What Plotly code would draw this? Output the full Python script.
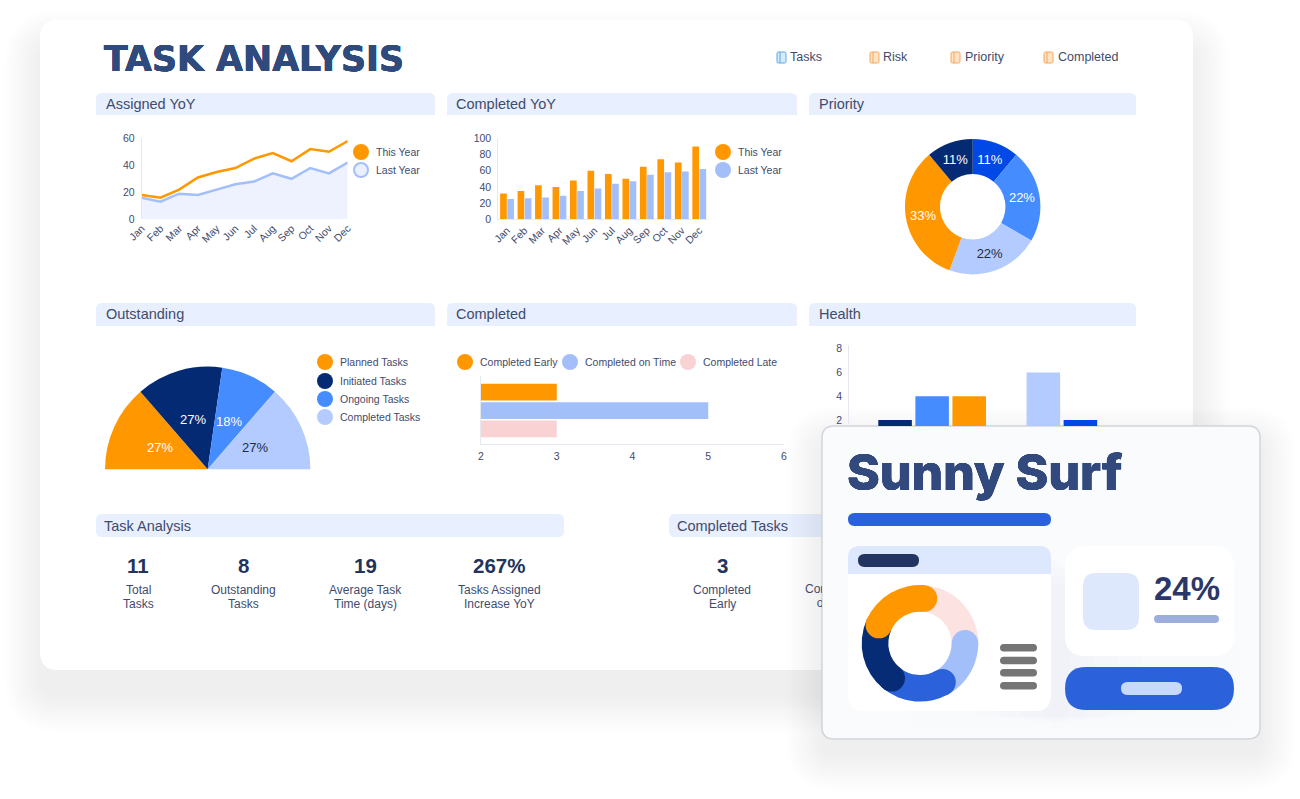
import math
import plotly.graph_objects as go

W, H = 1300, 799
months = ["Jan","Feb","Mar","Apr","May","Jun","Jul","Aug","Sep","Oct","Nov","Dec"]
assigned_this = [18,16,22,31,35,38,45,49,43,52,50,58]
assigned_last = [16,13,19,18,22,26,28,34,30,38,34,42]
completed_this = [32,35,42,40,48,60,56,50,65,74,70,90]
completed_last = [25,26,27,29,35,38,44,47,55,58,59,62]
priority_labels = ["Critical","High","Medium","Low","Minimal"]
priority_values = [1,2,2,3,1]
outstanding_labels = ["Planned Tasks","Initiated Tasks","Ongoing Tasks","Completed Tasks"]
outstanding_values = [3,3,2,3]
completed_labels = ["Completed Early","Completed on Time","Completed Late"]
completed_values = [3,5,3]
health_cats = ["a","b","c","d","e","f"]
health_values = [2,4,4,0,6,2]
ring_names = ["Late","On time","Early","Initiated","Planned"]
ring_sweeps = [85,60,69,75,71]
kpi_values = ["11","8","19","267%","3"]
kpi_labels = [("Total","Tasks"),("Outstanding","Tasks"),("Average Task","Time (days)"),("Tasks Assigned","Increase YoY"),("Completed","Early")]
top_items = ["Tasks","Risk","Priority","Completed"]

ORANGE="#ff9800"; NAVY="#042a73"; MID="#448cff"; LIGHT="#b3cbff"; ROYAL="#0049e6"; BAR="#a3bffa"; PINK="#f9d2d4"
TXT="#3f4b6c"; DARK="#24335c"; HDR="#e8effe"; AX="#e4e8ef"
SANS="Liberation Sans"

def fx(x): return x/W
def fy(y): return 1-y/H

shapes=[]; annos=[]

def rr(x0,y0,x1,y1,r,fill,line=None,lw=0,tl=True,tr=True,br=True,bl=True,layer="below"):
    a=r if tl else 0; b=r if tr else 0; c=r if br else 0; d=r if bl else 0
    p=f"M {fx(x0+a)} {fy(y0)} L {fx(x1-b)} {fy(y0)} Q {fx(x1)} {fy(y0)} {fx(x1)} {fy(y0+b)} "
    p+=f"L {fx(x1)} {fy(y1-c)} Q {fx(x1)} {fy(y1)} {fx(x1-c)} {fy(y1)} "
    p+=f"L {fx(x0+d)} {fy(y1)} Q {fx(x0)} {fy(y1)} {fx(x0)} {fy(y1-d)} "
    p+=f"L {fx(x0)} {fy(y0+a)} Q {fx(x0)} {fy(y0)} {fx(x0+a)} {fy(y0)} Z"
    shapes.append(dict(type="path",path=p,xref="paper",yref="paper",fillcolor=fill,
                       line=dict(color=line or "rgba(0,0,0,0)",width=lw),layer=layer))

def circ(cx,cy,r,fill,line=None,lw=0,layer="below"):
    shapes.append(dict(type="circle",xref="paper",yref="paper",x0=fx(cx-r),x1=fx(cx+r),y0=fy(cy+r),y1=fy(cy-r),
                       fillcolor=fill,line=dict(color=line or "rgba(0,0,0,0)",width=lw),layer=layer))

def shadow(x0,y0,x1,y1,r,spread,steps,alpha,dy):
    for i in range(steps,0,-1):
        s=spread*i/steps
        rr(x0-s,y0-s+dy,x1+s,y1+s+dy,r+s,f"rgba(0,0,0,{alpha})")

def txt(x,y,t,size=12,color=TXT,anchor="left",family=SANS,weight=None,stroke=None):
    f=dict(size=size,color=color,family=family)
    if weight: f["weight"]=weight
    if stroke:
        f["shadow"]=f"{stroke}px 0 0 {color}, -{stroke}px 0 0 {color}, 0 {stroke}px 0 {color}, 0 -{stroke}px 0 {color}"
    annos.append(dict(x=fx(x),y=fy(y),xref="paper",yref="paper",text=t,showarrow=False,xanchor=anchor,yanchor="middle",font=f,borderpad=0,borderwidth=0))

def dom(a,b,n): return [a/n,b/n]
def ydom(top,bot): return [1-bot/H,1-top/H]

# main card
shadow(40,20,1193,670,18,36,16,0.004,26)
rr(40,20,1193,670,18,"#ffffff")

# headers
for (x0,x1,y0,y1,tx,label) in [(96,435,93,115,106,"Assigned YoY"),(447,797,93,115,456,"Completed YoY"),(809,1136,93,115,819,"Priority"),
                            (96,435,303,326,106,"Outstanding"),(447,797,303,326,456,"Completed"),(809,1136,303,326,819,"Health"),
                            (96,564,514,537,104,"Task Analysis"),(669,1136,514,537,677,"Completed Tasks")]:
    rr(x0,y0,x1,y1,6,HDR,br=False,bl=False) if y0<500 else rr(x0,y0,x1,y1,6,HDR)
    txt(tx,(y0+y1)/2,label,14.5,TXT)

txt(104,59,"TASK ANALYSIS",34.8,"#2f4a7c",family="DejaVu Sans",weight=700,stroke=0.25)

# top legend icons
for (ix,tx,item,col,fill) in zip([777,870,951,1044],[790,883,965,1058],top_items,
        ["#5aa7e8","#f5a65b","#f5a65b","#f5a65b"],["#d8ebfb","#fde3c6","#fde3c6","#fde3c6"]):
    rr(ix,52,ix+9,63,1.5,fill,col,1)
    shapes.append(dict(type="line",xref="paper",yref="paper",x0=fx(ix+3),x1=fx(ix+3),y0=fy(52),y1=fy(63),line=dict(color=col,width=1),layer="below"))
    txt(tx,57,item,12.5,TXT)

# legends
for (y,l,fc,lc,lw) in [(152,"This Year",ORANGE,None,0),(170,"Last Year","#eaf0fe",BAR,2)]:
    circ(361,y,8 if lw==0 else 7,fc,lc,lw); txt(376,y,l,10.5)
for (y,l,fc) in [(152,"This Year",ORANGE),(170,"Last Year",BAR)]:
    circ(723,y,8,fc); txt(738,y,l,10.5)
for (y,l,fc) in zip([362,381,399,417],outstanding_labels,[ORANGE,NAVY,MID,LIGHT]):
    circ(325,y,8,fc); txt(339.5,y,l,10.5)
for (cx,l,fc) in zip([465,570,688],completed_labels,[ORANGE,BAR,PINK]):
    circ(cx,362,8,fc); txt(cx+14.5,362,l,10.5)

# KPIs
for (cx,v,l) in zip([138,243,366,499,722],kpi_values,kpi_labels):
    txt(cx,565.5,f"<b>{v}</b>",20.5,DARK,"center")
    txt(cx,590,l[0],12,TXT,"center"); txt(cx,604,l[1],12,TXT,"center")

# overlay card
shadow(822,426,1260,739,14,36,16,0.005,16)
rr(822,426,1260,739,12,"#fafbfd","#d2d5db",1.5)
for i,a in enumerate([6,14,22,30]):
    rr(1040-(30-a)*3,560+(30-a)*1,1070+(30-a)*3,724-(30-a)*0.3,24,"rgba(45,70,130,0.012)")
rr(910,640,1240,730,20,"rgba(45,70,130,0.008)")
txt(847,472,"Sunny Surf",49.8,"#31497c",family="Inter",weight=800,stroke=0.3)
rr(848,513,1051,526,6.5,"#2b62dc")
rr(848,546,1051,711,16,"#ffffff")
rr(848,546,1051,574,12,"#dde7fd",br=False,bl=False)
rr(858,554,919,567,6.5,"#22345f")
for y in (644,656.7,669,682):
    rr(1000,y,1037,y+7.6,3.8,"#757575")
rr(1065,546,1234,656,20,"#ffffff")
rr(1083,573,1139,630,13,"#dee8fd")
txt(1154,588,"<b>24%</b>",33,"#2b3768")
rr(1154,615,1219,623,4,"#9cafdc")
rr(1065,667,1234,710,21.5,"#2b62dc")
rr(1121,682,1182,695,6.5,"#c8dafb")

fig=go.Figure()

def axis_common():
    return dict(showgrid=False,zeroline=False,linecolor=AX,linewidth=1,ticks="",tickfont=dict(size=10.5,color=TXT,family=SANS))

# Assigned YoY
fig.add_trace(go.Scatter(x=months,y=assigned_last,mode="lines",line=dict(color=BAR,width=2.5),fill="tozeroy",fillcolor="rgba(232,239,254,0.8)",xaxis="x",yaxis="y",name="Last Year",cliponaxis=False))
fig.add_trace(go.Scatter(x=months,y=assigned_this,mode="lines",line=dict(color=ORANGE,width=2.5),xaxis="x",yaxis="y",name="This Year",cliponaxis=False))
# Completed YoY
fig.add_trace(go.Bar(x=months,y=completed_this,marker=dict(color=ORANGE,line=dict(width=0)),xaxis="x2",yaxis="y2",name="This Year"))
fig.add_trace(go.Bar(x=months,y=completed_last,marker=dict(color=BAR,line=dict(width=0)),xaxis="x2",yaxis="y2",name="Last Year"))
# Completed horizontal
for lab,val,col,off in zip(completed_labels,completed_values,[ORANGE,BAR,PINK],[-0.386,-0.117,0.152]):
    fig.add_trace(go.Bar(y=["Completed"],x=[val],orientation="h",width=0.245,offset=off,marker=dict(color=col,line=dict(width=0)),xaxis="x3",yaxis="y3",name=lab))
# Health
fig.add_trace(go.Bar(x=health_cats,y=health_values,width=0.905,marker=dict(color=[NAVY,MID,ORANGE,"#000000",LIGHT,ROYAL],line=dict(width=0)),xaxis="x4",yaxis="y4",name="Health"))
# clipped KPI under the overlay card
fig.add_trace(go.Scatter(x=[834,838],y=[590,604],mode="text",text=["Completed","on Time"],textposition="middle center",textfont=dict(size=12,color=TXT,family=SANS),xaxis="x5",yaxis="y5",cliponaxis=True,name="clip"))
# Priority donut
R=67.7
fig.add_trace(go.Pie(labels=priority_labels,values=priority_values,hole=0.483,sort=False,direction="clockwise",rotation=0,
    marker=dict(colors=[ROYAL,MID,LIGHT,ORANGE,NAVY],line=dict(width=0)),texttemplate="%{percent:.0%}",textposition="inside",
    insidetextorientation="horizontal",textfont=dict(size=13,family=SANS,color=["#fff","#fff","#222b40","#fff","#fff"]),
    domain=dict(x=[fx(972.7-R),fx(972.7+R)],y=[fy(206.7+R),fy(206.7-R)]),showlegend=False))
# Outstanding half pie
R2=102.7; PX,PY=207.7,469.3
tot=sum(outstanding_values)
fig.add_trace(go.Pie(labels=outstanding_labels+[""],values=outstanding_values+[tot],sort=False,direction="clockwise",rotation=270,
    marker=dict(colors=[ORANGE,NAVY,MID,LIGHT,"rgba(0,0,0,0)"],line=dict(width=0)),textinfo="none",
    domain=dict(x=[fx(PX-R2),fx(PX+R2)],y=[fy(PY+R2),fy(PY-R2)]),showlegend=False))
acc=0
for v,c in zip(outstanding_values,["#fff","#fff","#fff","#222b40"]):
    mid=math.pi*(acc+v/2)/tot; acc+=v
    txt(PX-52*math.cos(mid),PY-52*math.sin(mid),f"{round(100*v/tot)}%",13,c,"center")
# Overlay ring
R3=58.3; CX,CY=920,643.3
fig.add_trace(go.Pie(labels=ring_names,values=ring_sweeps,hole=0.543,sort=False,direction="clockwise",rotation=5,
    marker=dict(colors=["#fde2e2",BAR,"#2b62dc","#072c76",ORANGE],line=dict(width=0)),textinfo="none",
    domain=dict(x=[fx(CX-R3),fx(CX+R3)],y=[fy(CY+R3),fy(CY-R3)]),showlegend=False))
# round caps of the ring, placed from the sweeps
start=5; bounds=[]
for s in ring_sweeps:
    bounds.append(start); start+=s
def cap(deg,col):
    a=math.radians(deg); circ(CX+45*math.sin(a),CY-45*math.cos(a),13.3,col,layer="above")
cap(bounds[0],ORANGE)
cap(bounds[1],BAR)
cap(bounds[2],"#2b62dc")
cap(bounds[3],"#072c76")
cap(bounds[4],ORANGE)

ax=axis_common()
lay=dict(
 width=W,height=H,margin=dict(l=0,r=0,t=0,b=0,pad=0,autoexpand=False),paper_bgcolor="#ffffff",plot_bgcolor="rgba(0,0,0,0)",showlegend=False,
 barmode="group",bargap=0.18,bargroupgap=0.07,shapes=shapes,annotations=annos,
 xaxis=dict(ax,domain=dom(141.7,347.7,W),anchor="y",type="category",categoryorder="array",categoryarray=months,range=[0,11],tickangle=-45,showline=False),
 yaxis=dict(ax,domain=ydom(138.3,219.3),anchor="x",range=[0,60],tickvals=[0,20,40,60],showline=True,ticklabelstandoff=4),
 xaxis2=dict(ax,domain=dom(498.3,708,W),anchor="y2",type="category",tickangle=-45,showline=True),
 yaxis2=dict(ax,domain=ydom(138.3,219.3),anchor="x2",range=[0,100],tickvals=[0,20,40,60,80,100],showline=True,ticklabelstandoff=4),
 xaxis3=dict(ax,domain=dom(481,784,W),anchor="y3",range=[2,6],tickvals=[2,3,4,5,6],showline=True,ticklabelstandoff=2),
 yaxis3=dict(ax,domain=ydom(376,444.3),anchor="x3",type="category",range=[0.5,-0.5],showticklabels=False,showline=True),
 xaxis4=dict(ax,domain=dom(849.3,1136,W),anchor="y4",type="category",range=[-1.235,6.5],showticklabels=False,showline=False),
 yaxis4=dict(ax,domain=ydom(345,426),anchor="x4",range=[1.5,8.3],tickvals=[2,4,6,8],showline=True,ticklabelstandoff=4),
 xaxis5=dict(domain=dom(790,822,W),anchor="y5",range=[790,822],visible=False),
 yaxis5=dict(domain=ydom(580,615),anchor="x5",range=[615,580],visible=False),
)
fig.update_layout(**lay)
fig.write_html("out.html",config=dict(displayModeBar=False),post_script="document.body.style.margin='0';")
